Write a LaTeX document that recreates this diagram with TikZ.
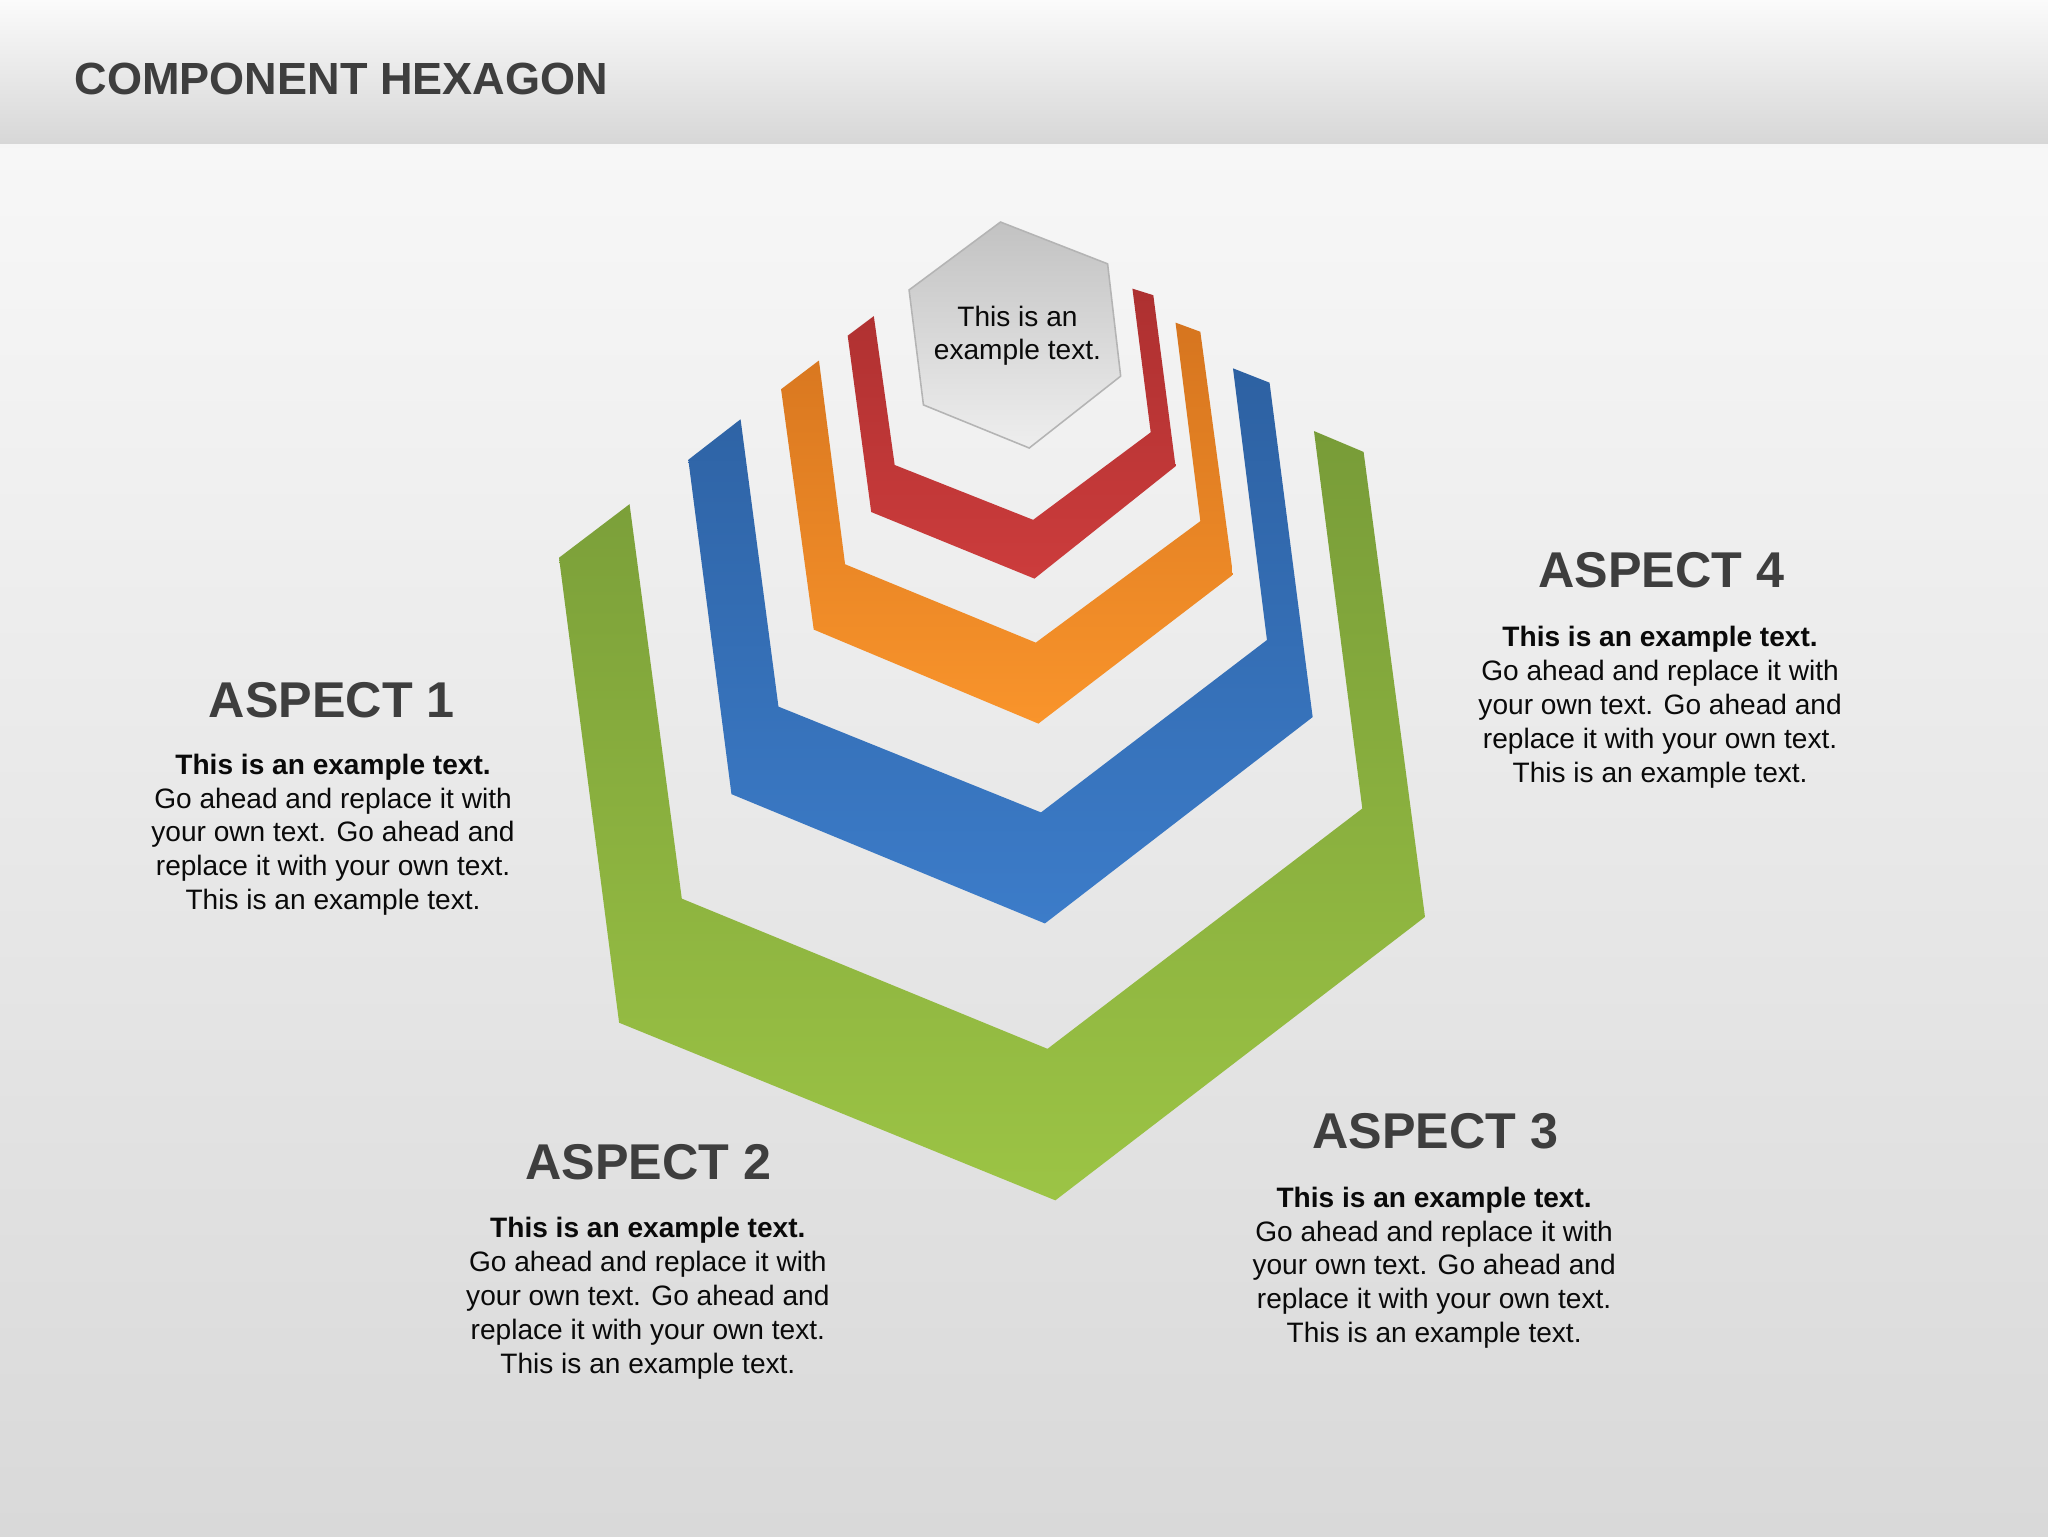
\documentclass[tikz,border=0pt]{standalone}
\usepackage{fontspec}
\setmainfont{Liberation Sans}
\definecolor{bgtop}{HTML}{F7F7F7}
\definecolor{bgbot}{HTML}{D9D9D9}
\definecolor{bartop}{HTML}{FBFBFB}
\definecolor{barbot}{HTML}{D7D7D7}
\definecolor{barline}{HTML}{F6F6F6}
\definecolor{greentop}{HTML}{789C38}
\definecolor{greenbot}{HTML}{9CC445}
\definecolor{bluetop}{HTML}{2D61A2}
\definecolor{bluebot}{HTML}{3C7CC9}
\definecolor{orangetop}{HTML}{D6751F}
\definecolor{orangebot}{HTML}{F9942B}
\definecolor{redtop}{HTML}{AD3030}
\definecolor{redbot}{HTML}{CC3C3C}
\definecolor{hextop}{HTML}{C2C2C2}
\definecolor{hexbot}{HTML}{EEEEEE}
\definecolor{hexline}{HTML}{B4B4B4}
\definecolor{headgray}{HTML}{3E3E3E}
\definecolor{bodyblack}{HTML}{0A0A0A}
\begin{document}
\begin{tikzpicture}[x=1pt,y=-1pt,
  headtxt/.style={font=\fontsize{38.5}{44}\selectfont\bfseries, text=headgray, anchor=base, inner sep=0pt},
  bodytxt/.style={font=\fontsize{21.5}{25.9}\selectfont, text=bodyblack, align=center, anchor=north, inner sep=0pt},
  titletxt/.style={font=\fontsize{34.5}{40}\selectfont\bfseries, text=headgray, anchor=base west, inner sep=0pt}
]
\useasboundingbox (0,0) rectangle (1568,1176);
% background
\shade[top color=bgtop, bottom color=bgbot] (0,112) rectangle (1568,1176);
\shade[top color=bartop, bottom color=barbot] (0,0) rectangle (1568,110);
\fill[barline] (0,110) rectangle (1568,113);
\node[titletxt] (title) at (57,72.7) {COMPONENT HEXAGON};

% green band
\shade[top color=greentop, bottom color=greenbot]
  (428,427) -- (474,783) -- (808,919) -- (1091,702) -- (1044,346)
  -- (1006,330) -- (1043,619) -- (802,803) -- (522,688) -- (482,386) -- cycle;
% blue band
\shade[top color=bluetop, bottom color=bluebot]
  (527,352) -- (560,608) -- (800,707) -- (1005,549) -- (972,293)
  -- (944,282) -- (970,490) -- (797,622) -- (596,541) -- (567,321) -- cycle;
% orange band
\shade[top color=orangetop, bottom color=orangebot]
  (598,298) -- (623,482) -- (795,554) -- (944,440) -- (919,254)
  -- (900,247) -- (919,399) -- (793,492) -- (647,432) -- (627,276) -- cycle;
% red band
\shade[top color=redtop, bottom color=redbot]
  (649,257) -- (667,392) -- (792,443) -- (900,357) -- (883,226)
  -- (867,221) -- (881,331) -- (791,398) -- (685,356) -- (669,242) -- cycle;
% gray hexagon
\shade[top color=hextop, bottom color=hexbot, draw=hexline, line width=1.2pt]
  (766,170) -- (848,202) -- (858,288) -- (788,343) -- (707,310) -- (696,222) -- cycle;
\node[bodytxt, font=\fontsize{21.5}{25.5}\selectfont] (hextext) at (779,234) {This is an\\example text.};

% Aspect 1
\node[headtxt] (h1) at (254,549) {ASPECT 1};
\node[bodytxt] (b1) at (255,577) {{\bfseries This is an example text.}\\Go ahead and replace it with\\your own text. Go ahead and\\replace it with your own text.\\This is an example text.};
% Aspect 4
\node[headtxt] (h4) at (1272,450) {ASPECT 4};
\node[bodytxt] (b4) at (1271,479.5) {{\bfseries This is an example text.}\\Go ahead and replace it with\\your own text. Go ahead and\\replace it with your own text.\\This is an example text.};
% Aspect 2
\node[headtxt] (h2) at (496.5,903) {ASPECT 2};
\node[bodytxt] (b2) at (496,932) {{\bfseries This is an example text.}\\Go ahead and replace it with\\your own text. Go ahead and\\replace it with your own text.\\This is an example text.};
% Aspect 3
\node[headtxt] (h3) at (1099,879.5) {ASPECT 3};
\node[bodytxt] (b3) at (1098,908.5) {{\bfseries This is an example text.}\\Go ahead and replace it with\\your own text. Go ahead and\\replace it with your own text.\\This is an example text.};
\end{tikzpicture}
\end{document}
